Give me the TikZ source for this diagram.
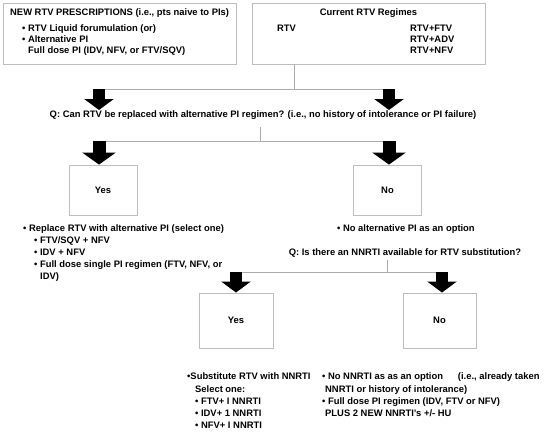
\documentclass[tikz,border=0pt]{standalone}
\usepackage{fontspec}
\setmainfont{Liberation Sans}
\usetikzlibrary{arrows.meta}
\definecolor{boxgray}{HTML}{BDBDBD}
\definecolor{linegray}{HTML}{ABABAB}
\tikzset{
  box/.style={draw=boxgray, line width=0.9pt, inner sep=0pt, font=\bfseries\fontsize{9.4}{11}\selectfont},
  conn/.style={draw=linegray, line width=0.9pt},
  fatarrow/.style={draw=black, line width=12pt, -{Triangle[width=29pt,length=11pt]}},
  fatarrowb/.style={draw=black, line width=13pt, -{Triangle[width=33pt,length=12pt]}},
  txt/.style={font=\bfseries\fontsize{9.4}{11}\selectfont, inner sep=0pt, anchor=base west},
  ctxt/.style={font=\bfseries\fontsize{9.4}{11}\selectfont, inner sep=0pt, anchor=base},
}
\begin{document}
\begin{tikzpicture}[x=1pt,y=-1pt]
\useasboundingbox[fill=white] (0,0) rectangle (550,442);

% top-left box
\node[box, minimum width=233pt, minimum height=61pt] (newbox) at (119.5,33.5) {};
\node[txt] (newt) at (10,15) {NEW RTV PRESCRIPTIONS (i.e., pts naive to PIs)};
\node[txt] (new1) at (22,31.5) {• RTV Liquid forumulation (or)};
\node[txt] (new2) at (22,42.5) {• Alternative PI};
\node[txt] (new3) at (28,53.5) {Full dose PI (IDV, NFV, or FTV/SQV)};

% top-right box
\node[box, minimum width=233pt, minimum height=61pt] (curbox) at (368.5,33.5) {};
\node[ctxt] (curt) at (368.5,15) {Current RTV Regimes};
\node[txt] (cur0) at (277,31.5) {RTV};
\node[txt] (cur1) at (410,31.5) {RTV+FTV};
\node[txt] (cur2) at (410,42.5) {RTV+ADV};
\node[txt] (cur3) at (410,53.5) {RTV+NFV};

% first split
\coordinate (j1) at (294,89);
\coordinate (a1l) at (99,89);
\coordinate (a1r) at (389,89);
\coordinate (t1l) at (99,110);
\coordinate (t1r) at (389,110);
\draw[conn] (j1 |- curbox.south) -- (j1);
\draw[conn] (a1l) -- (a1r);
\draw[fatarrow] (a1l) -- (t1l);
\draw[fatarrow] (a1r) -- (t1r);

% question 1
\node[ctxt] (q1) at (263,117) {Q: Can RTV be replaced with alternative PI regimen? (i.e., no history of intolerance or PI failure)};

% second split
\coordinate (q1s) at (260,127);
\coordinate (j2) at (260,141);
\coordinate (a2l) at (99,141);
\coordinate (a2r) at (389,141);
\draw[conn] (q1s) -- (j2);
\draw[conn] (a2l) -- (a2r);

\node[box, minimum width=68pt, minimum height=50pt] (yes1) at (103,190) {Yes};
\node[box, minimum width=68pt, minimum height=50pt] (no1) at (387.5,190) {No};
\draw[fatarrowb] (a2l) -- (a2l |- yes1.north);
\draw[fatarrowb] (a2r) -- (a2r |- no1.north);

% yes1 list
\node[txt] (y1a) at (23,231) {• Replace RTV with alternative PI (select one)};
\node[txt] (y1b) at (34,243) {• FTV/SQV + NFV};
\node[txt] (y1c) at (34,255) {• IDV + NFV};
\node[txt] (y1d) at (34,267) {• Full dose single PI regimen (FTV, NFV, or};
\node[txt] (y1e) at (40,279) {IDV)};

% no1 text
\node[txt] (n1a) at (337,231) {• No alternative PI as an option};
\node[ctxt] (q2) at (405,255) {Q: Is there an NNRTI available for RTV substitution?};

% third split
\coordinate (q2s) at (387,260);
\coordinate (j3) at (387,272);
\coordinate (a3l) at (236,272);
\coordinate (a3r) at (442,272);
\draw[conn] (q2s) -- (j3);
\draw[conn] (a3l) -- (a3r);

\node[box, minimum width=74pt, minimum height=55pt] (yes2) at (236,320.5) {Yes};
\node[box, minimum width=73pt, minimum height=55pt] (no2) at (439.5,320.5) {No};
\draw[fatarrow] (a3l) -- (a3l |- yes2.north);
\draw[fatarrow] (a3r) -- (a3r |- no2.north);

% bottom texts
\node[txt] (y2a) at (187,379.5) {•Substitute RTV with NNRTI};
\node[txt] (y2b) at (195,392) {Select one:};
\node[txt] (y2c) at (195,404) {• FTV+ I NNRTI};
\node[txt] (y2d) at (195,416) {• IDV+ 1 NNRTI};
\node[txt] (y2e) at (195,428) {• NFV+ I NNRTI};

\node[txt] (n2a) at (322,379.5) {• No NNRTI as as an option\hspace{15pt}(i.e., already taken};
\node[txt] (n2b) at (325,392) {NNRTI or history of intolerance)};
\node[txt] (n2c) at (322,404) {• Full dose PI regimen (IDV, FTV or NFV)};
\node[txt] (n2d) at (325,416) {PLUS 2 NEW NNRTI's +/- HU};
\end{tikzpicture}
\end{document}
